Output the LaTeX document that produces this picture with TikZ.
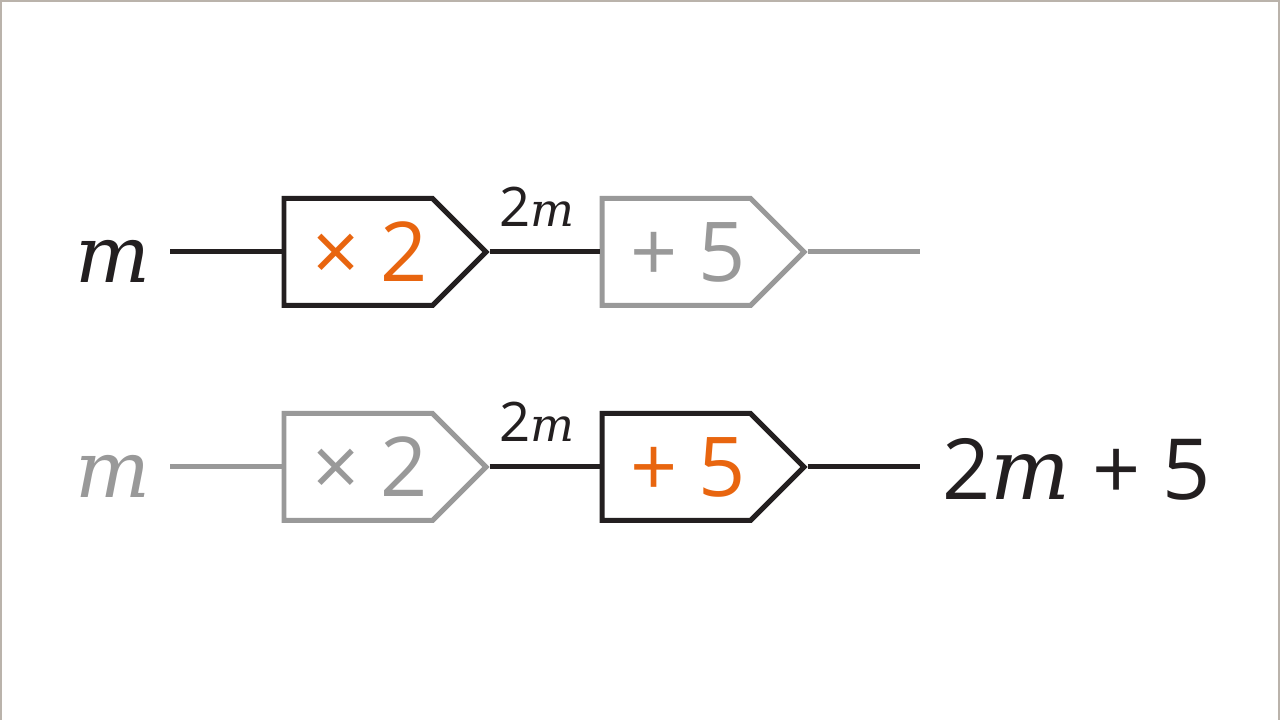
\documentclass[tikz,border=0pt]{standalone}
\usepackage{fontspec}
\setmainfont{Open Sans}
\newfontfamily\mfont{DejaVu Serif}
\usetikzlibrary{shapes.symbols}

\definecolor{ink}{HTML}{231F20}
\definecolor{faded}{HTML}{999999}
\definecolor{accent}{HTML}{E8650F}
\definecolor{edge}{HTML}{BAB3AB}

\newcommand{\varm}[1]{{\mfont\itshape\fontsize{#1}{#1}\selectfont m}}

\begin{document}
\begin{tikzpicture}[
opbox/.style={shape=signal, signal to=east, signal pointer angle=90, draw=ink, line width=1.42pt, minimum width=2.02cm, minimum height=1.07cm, inner sep=0, anchor=west, font=\fontsize{23.5}{24}\selectfont},
varnode/.style={inner xsep=0.19cm, inner ysep=0, anchor=base east},
wire/.style={draw=ink, line width=1.42pt},
frame/.style={draw=edge, line width=0.025cm},
]
\useasboundingbox (0,0) rectangle (12.8,7.2);
\draw[frame] (0.0125,0) -- (0.0125,7.1875) -- (12.7875,7.1875) -- (12.7875,0);

% Nodes
\node[varnode, text=ink] (m1) at (1.70,4.37) {\varm{22.5}};
\node[opbox, text=accent] (t1) at (2.815,4.68) {\hspace{0.24cm}× 2};
\node[opbox, draw=faded, text=faded] (t2) at (5.995,4.68) {\hspace{0.24cm}+ 5};
\coordinate (end1) at (9.20,4.68);

\node[varnode, text=faded] (m2) at (1.70,2.22) {\varm{22.5}};
\node[opbox, draw=faded, text=faded] (b1) at (2.815,2.53) {\hspace{0.24cm}× 2};
\node[opbox, text=accent] (b2) at (5.995,2.53) {\hspace{0.24cm}+ 5};
\node[varnode, anchor=base west, inner xsep=0.22cm, text=ink, font=\fontsize{24}{24}\selectfont] (res) at (9.20,2.20) {2\varm{24} + 5};

% Lines
\draw[wire] (m1.east |- t1.west) -- (t1.west);
\draw[wire] (t1.east) -- node[pos=0.43, above, inner sep=0.23cm, text=ink, font=\fontsize{15.5}{16}\selectfont] {2\varm{13.2}} (t2.west);
\draw[wire, draw=faded] (t2.east) -- (end1);

\draw[wire, draw=faded] (m2.east |- b1.west) -- (b1.west);
\draw[wire] (b1.east) -- node[pos=0.43, above, inner sep=0.23cm, text=ink, font=\fontsize{15.5}{16}\selectfont] {2\varm{13.2}} (b2.west);
\draw[wire] (b2.east) -- (res.west |- b2.east);

\end{tikzpicture}
\end{document}
